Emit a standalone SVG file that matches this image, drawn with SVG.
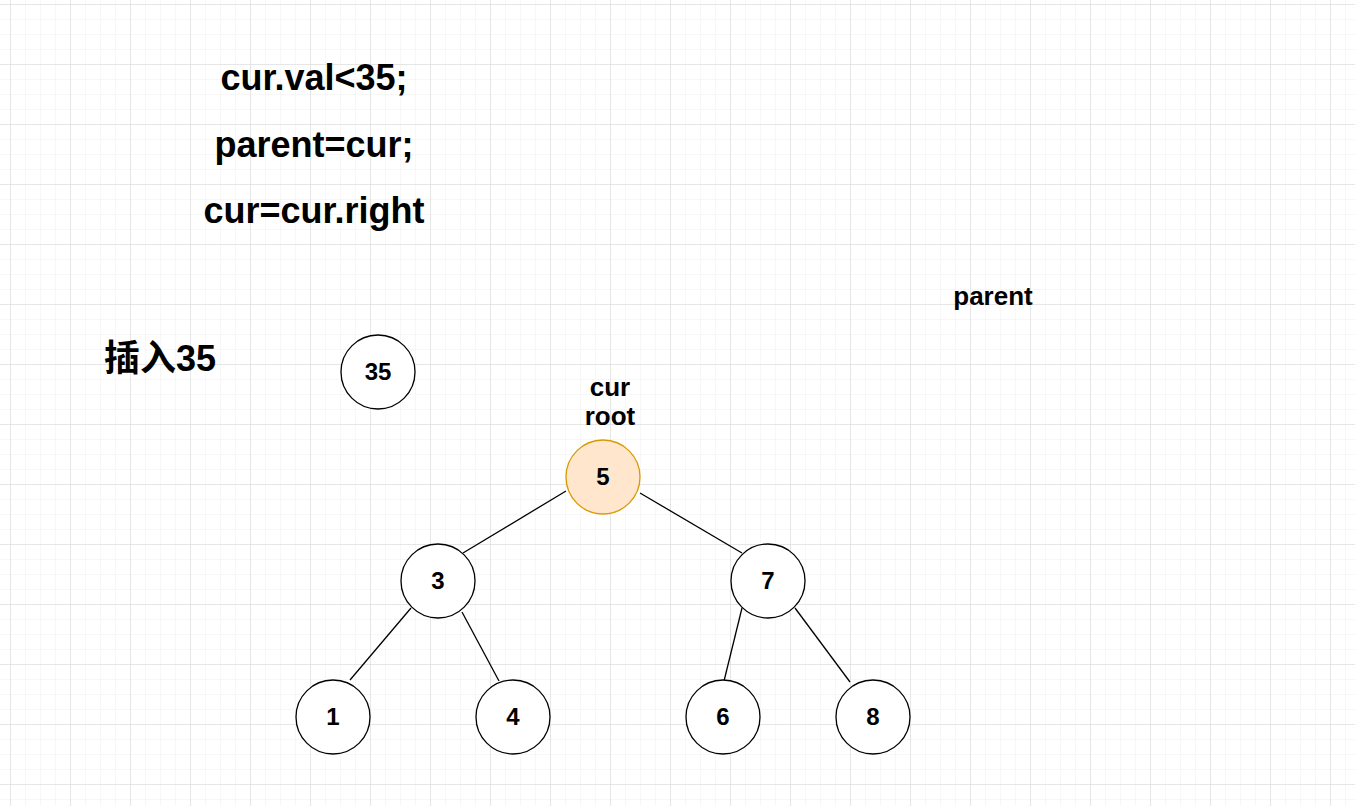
<svg xmlns="http://www.w3.org/2000/svg" width="1355" height="806" viewBox="0 0 1355 806">
<defs>
<pattern id="minor" width="15" height="15" patternUnits="userSpaceOnUse" x="10" y="4"><path d="M0 0H15M0 0V15" fill="none" stroke="#f0f0f0" stroke-width="1"/></pattern>
<pattern id="major" width="60" height="60" patternUnits="userSpaceOnUse" x="10" y="4"><path d="M0 0H60M0 0V60" fill="none" stroke="#d6d6d6" stroke-width="1"/></pattern>
<style>
.n{fill:#fff;stroke:#000;stroke-width:1.3}
.h{fill:#ffe6cc;stroke:#d79b00;stroke-width:1.3}
.t{font-family:"Liberation Sans",Arial,sans-serif;font-weight:bold;fill:#000;text-anchor:middle}
.l{font-size:24px}
.e{stroke:#000;stroke-width:1.3;fill:none}
</style>
</defs>
<rect width="1355" height="806" fill="#fff"/>
<rect width="1355" height="806" fill="url(#minor)"/>
<rect width="1355" height="806" fill="url(#major)"/>
<g id="texts">
<text class="t" x="314" y="90" font-size="36">cur.val&lt;35;</text>
<text class="t" x="314" y="157" font-size="36">parent=cur;</text>
<text class="t" x="314" y="223" font-size="36">cur=cur.right</text>
<text class="t" x="160" y="371" font-size="36" style="font-family:'Liberation Sans','Noto Sans CJK SC',sans-serif">插入35</text>
<text class="t" x="993" y="305" font-size="26">parent</text>
<text class="t" x="610" y="396" font-size="26">cur</text>
<text class="t" x="610" y="425" font-size="26">root</text>
</g>
<g id="connectors">
<line class="e" x1="566" y1="491" x2="463" y2="553"/>
<line class="e" x1="640" y1="493" x2="742" y2="553"/>
<line class="e" x1="411" y1="608" x2="350" y2="680"/>
<line class="e" x1="462" y1="612" x2="499" y2="681"/>
<line class="e" x1="742" y1="608" x2="724" y2="681"/>
<line class="e" x1="795" y1="608" x2="850" y2="682"/>
</g>
<g id="n35"><circle class="n" cx="378" cy="372" r="37"/><text class="t l" x="378" y="380">35</text></g>
<g id="n5"><circle class="h" cx="603" cy="477" r="37"/><text class="t l" x="603" y="485">5</text></g>
<g id="n3"><circle class="n" cx="438" cy="581" r="37"/><text class="t l" x="438" y="589">3</text></g>
<g id="n7"><circle class="n" cx="768" cy="581" r="37"/><text class="t l" x="768" y="589">7</text></g>
<g id="n1"><circle class="n" cx="333" cy="717" r="37"/><text class="t l" x="333" y="725">1</text></g>
<g id="n4"><circle class="n" cx="513" cy="717" r="37"/><text class="t l" x="513" y="725">4</text></g>
<g id="n6"><circle class="n" cx="723" cy="717" r="37"/><text class="t l" x="723" y="725">6</text></g>
<g id="n8"><circle class="n" cx="873" cy="717" r="37"/><text class="t l" x="873" y="725">8</text></g>
</svg>
